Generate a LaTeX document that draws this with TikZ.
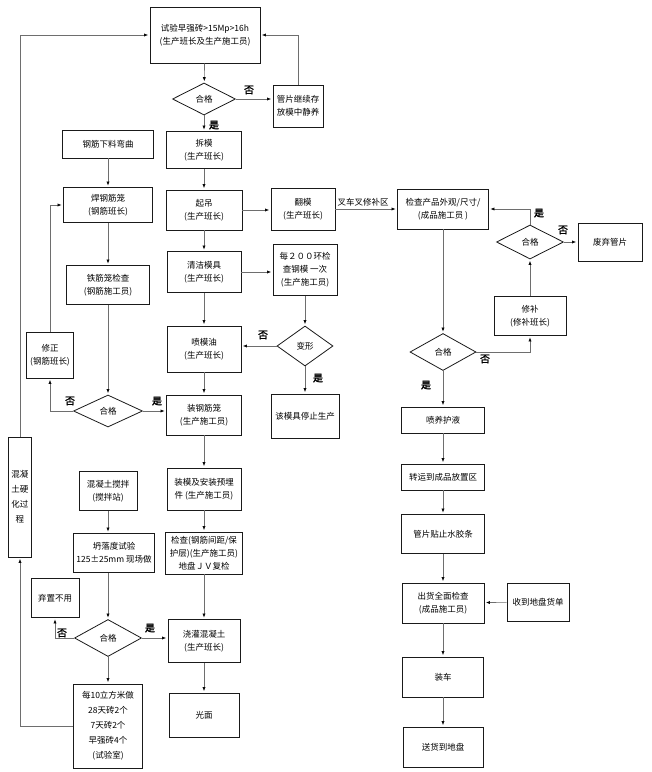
\documentclass[tikz,border=0pt]{standalone}
\usepackage{fontspec}
\setmainfont{Noto Sans CJK SC}
\newfontfamily\cjkbold[FakeBold=2]{Noto Sans CJK SC}
\usepackage{tikz}
\usetikzlibrary{arrows.meta,calc,shapes.geometric}
\definecolor{ink}{HTML}{1A1A1A}
\definecolor{wire}{HTML}{6E6E6E}

\begin{document}
\begin{tikzpicture}[x=1pt,y=-1pt,font=\fontsize{8.5}{13}\selectfont,>={Latex[length=4pt,width=3.2pt,color=black]},
 box/.style={draw=ink,line width=0.9pt,align=center,inner sep=1pt},
 gate/.style={diamond,draw=ink,line width=0.8pt,inner sep=0pt},
 sz/.style 2 args={minimum width=#1,minimum height=#2},
 flow/.style={->,draw=wire,line width=0.6pt,shorten >=1.5pt},
 yn/.style={font=\cjkbold\fontsize{10}{10}\selectfont,inner sep=0pt}]
\useasboundingbox (0,0) rectangle (652,772);
% middle: the mould line
\node[box,sz={110}{56}] (test) at (205,35) {试验早强砖>15Mp>16h\\(生产班长及生产施工员)};
\node[gate,sz={63}{32}] (q1) at (204,99) {合格};
\node[box,sz={50}{42}] (keep) at (298,106) {管片继续存\\放模中静养};
\node[box,sz={75}{37}] (demould) at (204,150) {拆模\\(生产班长)};
\node[box,sz={76}{40}] (lift) at (204,210) {起吊\\(生产班长)};
\node[box,sz={64}{42}] (flip) at (303,209) {翻模\\(生产班长)};
\node[box,sz={74}{41}] (clean) at (204,272) {清洁模具\\(生产班长)};
\node[box,sz={64}{51}] (check200) at (305,270) {每２００环检\\查钢模 一次\\(生产施工员)};
\node[box,sz={74}{46}] (oil) at (204,349) {喷模油\\(生产班长)};
\node[gate,sz={56}{40}] (bent) at (305,346) {变形};
\node[box,sz={68}{44}] (stop) at (305,416) {该模具停止生产};
\node[box,sz={75}{40}] (cage) at (204,415) {装钢筋笼\\(生产施工员)};
\node[box,sz={74}{42}] (form) at (204,489) {装模及安装预埋\\件 (生产施工员)};
\node[box,sz={77}{42}] (recheck) at (204,553) {检查(钢筋间距/保\\护层)(生产施工员)\\地盘ＪＶ复检};
\node[box,sz={72}{43}] (pour) at (204,641) {浇灌混凝土\\(生产班长)};
\node[box,sz={70}{44}] (face) at (204,715) {光面};
% left: the rebar cage
\node[box,sz={91}{28}] (cut) at (108,144) {钢筋下料弯曲};
\node[box,sz={89}{35}] (weld) at (108,205) {焊钢筋笼\\(钢筋班长)};
\node[box,sz={83}{39}] (cagechk) at (108,285) {铁筋笼检查\\(钢筋施工员)};
\node[box,sz={47}{46}] (fix) at (50,355) {修正\\(钢筋班长)};
\node[gate,sz={69}{32}] (q2) at (108,411) {合格};
% left, lower: the concrete
\node[box,sz={23}{120},font=\fontsize{8.5}{15}\selectfont] (harden) at (20,497) {混凝\\土硬\\化过\\程};
\node[box,sz={58}{39}] (mix) at (108,491) {混凝土搅拌\\(搅拌站)};
\node[box,sz={81}{39}] (slump) at (114,553) {坍落度试验\\125±25mm 现场做};
\node[box,sz={48}{39}] (discard) at (55,598) {弃置不用};
\node[gate,sz={67}{37}] (q3) at (108,638) {合格};
\node[box,sz={69}{84},font=\fontsize{8.5}{15}\selectfont] (cubes) at (108,726) {每10立方米做\\28天砖2个\\7天砖2个\\早强砖4个\\(试验室)};
% right: the finished segments
\node[box,sz={91}{40}] (look) at (443,209) {检查产品外观/尺寸/\\(成品施工员 )};
\node[gate,sz={66}{37}] (q4) at (443,352) {合格};
\node[box,sz={72}{39}] (mend) at (530,316) {修补\\(修补班长)};
\node[gate,sz={67}{34}] (q5) at (530,242) {合格};
\node[box,sz={64}{38}] (scrap) at (610,242) {废弃管片};
\node[box,sz={83}{26}] (cure) at (443,420) {喷养护液};
\node[box,sz={83}{26}] (yard) at (443,477) {转运到成品放置区};
\node[box,sz={83}{39}] (strip) at (443,534) {管片贴止水胶条};
\node[box,sz={82}{40}] (final) at (443,603) {出货全面检查\\(成品施工员)};
\node[box,sz={62}{38}] (order) at (538,602) {收到地盘货单};
\node[box,sz={81}{40}] (truck) at (443,677) {装车};
\node[box,sz={80}{40}] (site) at (443,747) {送货到地盘};
% yes / no marks
\node[yn] (no1) at (249,90) {否};
\node[yn] (yes1) at (214,125) {是};
\node[yn] (no2) at (70,401) {否};
\node[yn] (yes2) at (157,401) {是};
\node[yn] (no3) at (263,335) {否};
\node[yn] (yes3) at (318,378) {是};
\node[yn] (no4) at (62,633) {否};
\node[yn] (yes4) at (150,628) {是};
\node[yn] (no5) at (485,359) {否};
\node[yn] (yes5) at (426,385) {是};
\node[yn] (yes6) at (539,213) {是};
\node[yn] (no6) at (563,230) {否};
\node[inner sep=1pt,anchor=south] (fork) at (363,207) {叉车叉修补区};
% connectors
\draw[flow] (test) -- (q1);
\draw[flow] (q1) -- (q1 -| keep.west);
\draw[flow] (keep.north) |- (test.east);
\draw[flow] (q1) -- (demould);
\draw[flow] (demould) -- (lift);
\draw[flow] (lift) -- (lift -| flip.west);
\draw[flow] (flip) -- (flip -| look.west);
\draw[flow] (lift) -- (clean);
\draw[flow] (clean) -- (clean -| check200.west);
\draw[flow] (check200) -- (bent);
\draw[flow] (bent) -- (bent -| oil.east);
\draw[flow] (bent) -- (stop);
\draw[flow] (clean) -- (oil);
\draw[flow] (oil) -- (cage);
\draw[flow] (cage) -- (form);
\draw[flow] (form) -- (recheck);
\draw[flow] (recheck) -- (pour);
\draw[flow] (pour) -- (face);
\draw[flow] (cut) -- (weld);
\draw[flow] (weld) -- (cagechk);
\draw[flow] (cagechk) -- (q2);
\draw[flow] (q2.west) -| (fix.south);
\draw[flow] (fix.north) |- (weld.west);
\draw[flow] (q2) -- (q2 -| cage.west);
\draw[flow] (mix) -- (mix |- slump.north);
\draw[flow] (q3 |- slump.south) -- (q3);
\draw[flow] (q3.west) -| (discard.south);
\draw[flow] (q3) -- (q3 -| pour.west);
\draw[flow] (q3) -- (cubes);
\draw[flow] (cubes.west) -| (harden.south);
\draw[flow] (harden.north) |- (test.west);
\draw[flow] (look) -- (q4);
\draw[flow] (q4.east) -| (mend.south);
\draw[flow] (mend) -- (q5);
\draw[flow] (q5.north) |- (look.east);
\draw[flow] (q5) -- (scrap);
\draw[flow] (q4) -- (cure);
\draw[flow] (cure) -- (yard);
\draw[flow] (yard) -- (strip);
\draw[flow] (strip) -- (final);
\draw[flow] (order) -- (final);
\draw[flow] (final) -- (truck);
\draw[flow] (truck) -- (site);
\end{tikzpicture}
\end{document}
